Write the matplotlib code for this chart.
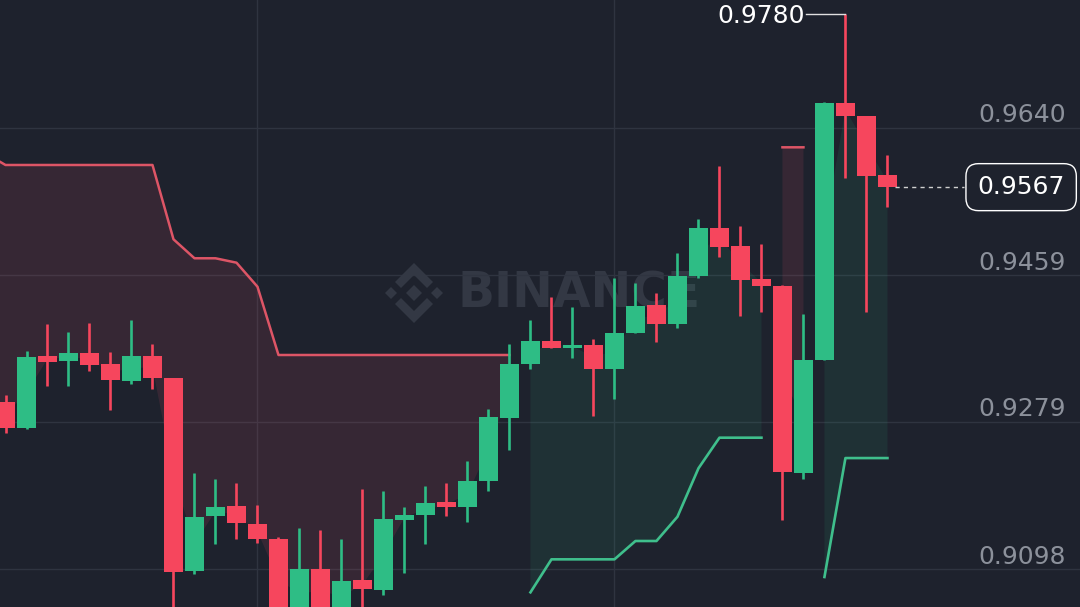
import numpy as np
import matplotlib
matplotlib.use("Agg")
import matplotlib.pyplot as plt
from matplotlib.patches import Polygon
from matplotlib.transforms import blended_transform_factory

# candle data; first candle sits just off the left edge
opens = [0.93100, 0.93036, 0.92710, 0.93597, 0.93540, 0.93631, 0.93499, 0.93291, 0.93597, 0.93324,
         0.90962, 0.91634, 0.91756, 0.91535, 0.91351, 0.90382, 0.90979, 0.90455, 0.90848, 0.90725,
         0.91585, 0.91646, 0.91802, 0.91740, 0.92067, 0.92833, 0.93499, 0.93782, 0.93699, 0.93733,
         0.93438, 0.93883, 0.94223, 0.93990, 0.94579, 0.95165, 0.94948, 0.94539, 0.94457, 0.92165,
         0.93548, 0.96699, 0.96543, 0.95819]
highs = [0.93180, 0.93119, 0.93662, 0.93990, 0.93888, 0.93999, 0.93650, 0.94039, 0.93745, 0.93330,
         0.92158, 0.92088, 0.92035, 0.91769, 0.91376, 0.91483, 0.91462, 0.91348, 0.91961, 0.91940,
         0.91748, 0.92002, 0.92042, 0.92309, 0.92943, 0.93741, 0.94039, 0.94325, 0.94195, 0.93802,
         0.94551, 0.94490, 0.94367, 0.94865, 0.95275, 0.95933, 0.95193, 0.94969, 0.94470, 0.94113,
         0.96715, 0.97800, 0.96543, 0.96065]
lows = [0.92980, 0.92656, 0.92701, 0.93233, 0.93233, 0.93417, 0.92935, 0.93254, 0.93189, 0.90357,
        0.90922, 0.91286, 0.91348, 0.91299, 0.90210, 0.90284, 0.90308, 0.90357, 0.90406, 0.90664,
        0.90930, 0.91286, 0.91634, 0.91564, 0.91940, 0.92444, 0.93434, 0.93696, 0.93569, 0.92865,
        0.93066, 0.93880, 0.93773, 0.93937, 0.94559, 0.94809, 0.94088, 0.94141, 0.91585, 0.92084,
        0.93548, 0.95786, 0.94141, 0.95430]
closes = [0.93040, 0.92717, 0.93589, 0.93527, 0.93631, 0.93487, 0.93303, 0.93597, 0.93331, 0.90950,
          0.91625, 0.91748, 0.91544, 0.91355, 0.90357, 0.90979, 0.90455, 0.90836, 0.90734, 0.91593,
          0.91646, 0.91790, 0.91748, 0.92067, 0.92845, 0.93499, 0.93782, 0.93699, 0.93733, 0.93434,
          0.93883, 0.94211, 0.93990, 0.94579, 0.95165, 0.94939, 0.94530, 0.94460, 0.92170, 0.93548,
          0.96703, 0.96543, 0.95811, 0.95670]

nan = np.nan
# supertrend lines
st_down = [0.96092, 0.95942, 0.95942, 0.95942, 0.95942, 0.95942, 0.95942, 0.95942, 0.95942, 0.95030,
           0.94797, 0.94797, 0.94743, 0.94448, 0.93610, 0.93610, 0.93610, 0.93610, 0.93610, 0.93610,
           0.93610, 0.93610, 0.93610, 0.93610, 0.93610, 0.93610, nan, nan, nan, nan,
           nan, nan, nan, nan, nan, nan, nan, nan, 0.96159, 0.96159,
           nan, nan, nan, nan]
st_up = [nan, nan, nan, nan, nan, nan, nan, nan, nan, nan,
         nan, nan, nan, nan, nan, nan, nan, nan, nan, nan,
         nan, nan, nan, nan, nan, nan, 0.90697, 0.91102, 0.91102, 0.91102,
         0.91102, 0.91327, 0.91327, 0.91625, 0.92219, 0.92595, 0.92595, 0.92595, nan, nan,
         0.90885, 0.92345, 0.92345, 0.92345]

grid_prices = [0.9640, 0.9459, 0.9279, 0.9098]
grid_labels = ["0.9640", "0.9459", "0.9279", "0.9098"]
grid_x = [12, 29]

BG = "#1e222d"
UP = "#2ebd85"
DOWN = "#f6465d"
GRID = "#2f3440"

fig = plt.figure(figsize=(10.8, 6.07), dpi=100, facecolor=BG)
ax = fig.add_axes([0, 0, 1, 1])
ax.set_facecolor(BG)
for s in ax.spines.values():
    s.set_visible(False)

x = np.arange(len(closes)) - 1
o = np.array(opens)
c = np.array(closes)
mid = (o + c) / 2
down = np.array(st_down)
up = np.array(st_up)

# watermark
ax.text(0.424, 0.517, "BINANCE", transform=ax.transAxes, fontsize=35, fontweight="bold",
        color="#333844", ha="left", va="center", zorder=0.5)
cx, cy = 414, 293
logo = [
    [(0, -8), (8, 0), (0, 8), (-8, 0)],
    [(-23, -6), (-17, 0), (-23, 6), (-29, 0)],
    [(23, -6), (29, 0), (23, 6), (17, 0)],
    [(-19, -11), (0, -30), (19, -11), (13, -5), (0, -18), (-13, -5)],
    [(-19, 11), (0, 30), (19, 11), (13, 5), (0, 18), (-13, 5)],
]
for shape in logo:
    pts = [((cx + px) / 1080, 1 - (cy + py) / 607) for px, py in shape]
    fig.patches.append(Polygon(pts, closed=True, transform=fig.transFigure,
                               facecolor="#333844", edgecolor="none", zorder=0.5))

# supertrend fills and lines
ax.fill_between(x, down, mid, color="#e8506a", alpha=0.12, linewidth=0, zorder=1)
ax.fill_between(x, up, mid, color=UP, alpha=0.10, linewidth=0, zorder=1)
ax.plot(x, down, color="#dd5566", linewidth=1.8, zorder=2)
ax.plot(x, up, color="#3fbf8c", linewidth=1.9, zorder=2)

# candles
colors = [UP if cl >= op else DOWN for op, cl in zip(opens, closes)]
ax.vlines(x, lows, highs, colors=colors, linewidth=1.9, zorder=3)
heights = c - o
heights = np.where(np.abs(heights) < 0.0003, np.sign(heights + 1e-12) * 0.0003, heights)
ax.bar(x, heights, bottom=o, width=0.87, color=colors, linewidth=0, zorder=4)

# grid
ax.set_yticks(grid_prices)
ax.set_xticks(grid_x)
ax.grid(True, color=GRID, linewidth=1)
ax.set_axisbelow(True)
ax.tick_params(length=0, labelleft=False, labelbottom=False)

ax.set_xlim(-0.262, 51.17)
ax.set_ylim(0.90517, 0.97967)

# price labels on the right
tr = blended_transform_factory(ax.transAxes, ax.transData)
for p, lab in zip(grid_prices, grid_labels):
    ax.annotate(lab, xy=(0.987, p), xycoords=tr, xytext=(0, 4), textcoords="offset points",
                ha="right", va="baseline", fontsize=18, color="#8c919b", zorder=5)

# last price
last = closes[-1]
ax.plot([x[-1] + 0.35, x[-1] + 3.65], [last, last], color="#d0d0d0", linewidth=1,
        linestyle=(0, (3, 3)), zorder=5)
ax.text(0.9455, last, "%.4f" % last, transform=tr, ha="center", va="center", fontsize=18,
        color="white", zorder=6,
        bbox=dict(boxstyle="round,pad=0.46,rounding_size=0.5", facecolor=BG,
                  edgecolor="white", linewidth=1))

# high marker
hi = int(np.argmax(highs))
xh = x[hi]
ax.plot([xh - 1.9, xh], [highs[hi], highs[hi]], color="#e0e0e0", linewidth=1, zorder=5)
ax.annotate("%.4f" % highs[hi], xy=(xh - 1.95, highs[hi]), xytext=(0, -1.5),
            textcoords="offset points", ha="right", va="center", fontsize=18,
            color="white", zorder=6)

plt.savefig("out.png", dpi=100, facecolor=BG)
